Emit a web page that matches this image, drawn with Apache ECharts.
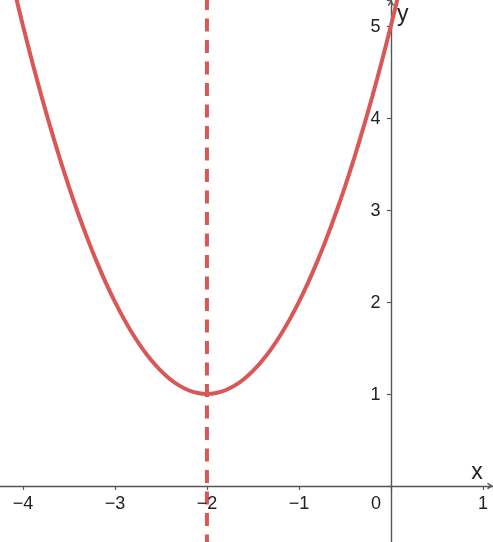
<!DOCTYPE html>
<html>
<head>
<meta charset="utf-8">
<script src="https://cdn.jsdelivr.net/npm/echarts@6/dist/echarts.min.js"></script>
<style>
html,body{margin:0;padding:0;background:#fff;}
#chart{width:493px;height:542px;}
</style>
</head>
<body>
<div id="chart"></div>
<script>
// Data
var curveX = [-4.1,-4.0,-3.9,-3.8,-3.7,-3.6,-3.5,-3.4,-3.3,-3.2,-3.1,-3.0,-2.9,-2.8,-2.7,-2.6,-2.5,-2.4,-2.3,-2.2,-2.1,-2.0,-1.9,-1.8,-1.7,-1.6,-1.5,-1.4,-1.3,-1.2,-1.1,-1.0,-0.9,-0.8,-0.7,-0.6,-0.5,-0.4,-0.3,-0.2,-0.1,0.0,0.1];
var curveY = [5.41,5.00,4.61,4.24,3.89,3.56,3.25,2.96,2.69,2.44,2.21,2.00,1.81,1.64,1.49,1.36,1.25,1.16,1.09,1.04,1.01,1.00,1.01,1.04,1.09,1.16,1.25,1.36,1.49,1.64,1.81,2.00,2.21,2.44,2.69,2.96,3.25,3.56,3.89,4.24,4.61,5.00,5.41];
var symmetryX = -2;
var xTickValues = [-4,-3,-2,-1,1];
var xTickLabels = ['\u22124','\u22123','\u22122','\u22121','1'];
var yTickValues = [1,2,3,4,5];
var yTickLabels = ['1','2','3','4','5'];
var originLabel = '0';
var xRange = [-5, 1.11];
var yRange = [-1, 5.28];

var curveData = curveX.map(function(x,i){return [x, curveY[i]];});
var dashData = [[symmetryX, yRange[1]], [symmetryX, yRange[0]]];
var xLabelData = xTickValues.map(function(v,i){return {value:[v,0], name:xTickLabels[i]};});
var yLabelData = yTickValues.map(function(v,i){return {value:[0,v], name:yTickLabels[i]};});
var originData = [{value:[0,0], name:originLabel}];

var red = '#d95757';
var axisColor = '#555';
var labelColor = '#222';
var font = "'Liberation Sans', Arial, sans-serif";
var arrowPath = 'path://M0,8 L5,0 L10,8 L8.3,9.4 L5,4.2 L1.7,9.4 Z';

function labelSeries(data, pos, dist, offset){
  return {type:'scatter', data:data, symbolSize:1, silent:true, clip:false, z:5,
    itemStyle:{color:'rgba(0,0,0,0)'},
    label:{show:true, position:pos, distance:dist, offset:offset, color:labelColor, opacity:1, fontSize:18, fontFamily:font,
      formatter:function(p){return p.name;}}};
}

var chart = echarts.init(document.getElementById('chart'), null, {renderer:'canvas'});
chart.setOption({
  backgroundColor:'#fff',
  animation:false,
  grid:{left:-69,right:0,top:0,bottom:-36,containLabel:false,
        outerBounds:{left:-600,top:-600,right:-600,bottom:-600}},
  xAxis:{
    type:'value', min:xRange[0], max:xRange[1], interval:1,
    name:'x', nameLocation:'end', nameGap:-16,
    nameTextStyle:{color:'#222', fontSize:23, fontFamily:font, align:'center', verticalAlign:'bottom', padding:[0,0,2,0]},
    axisLine:{onZero:true, lineStyle:{color:axisColor, width:1.4}, symbol:['none', arrowPath], symbolSize:[10,6], symbolOffset:[0,-3]},
    axisTick:{show:true, length:4, lineStyle:{color:axisColor, width:1.2}},
    axisLabel:{show:false},
    splitLine:{show:false}
  },
  yAxis:{
    type:'value', min:yRange[0], max:yRange[1], interval:1,
    name:'y', nameLocation:'end', nameGap:-3,
    nameTextStyle:{color:'#222', fontSize:23, fontFamily:font, align:'left', verticalAlign:'top', padding:[0,0,0,6]},
    axisLine:{onZero:true, lineStyle:{color:axisColor, width:1.4}, symbol:['none', arrowPath], symbolSize:[10,6], symbolOffset:[0,-3]},
    axisTick:{show:true, length:4, lineStyle:{color:axisColor, width:1.2}},
    axisLabel:{show:false},
    splitLine:{show:false}
  },
  series:[
    {type:'line', data:dashData, symbol:'none', silent:true, clip:true,
     lineStyle:{color:red, width:4, type:[13,8.5], dashOffset:3}, z:3},
    {type:'line', data:curveData, symbol:'none', smooth:0.3, clip:true,
     lineStyle:{color:red, width:4}, z:4},
    labelSeries(xLabelData, 'bottom', 9, [0,0]),
    labelSeries(yLabelData, 'left', 10, [0,1.5]),
    labelSeries(originData, 'bottom', 9, [-15,0])
  ]
});
</script>
</body>
</html>
